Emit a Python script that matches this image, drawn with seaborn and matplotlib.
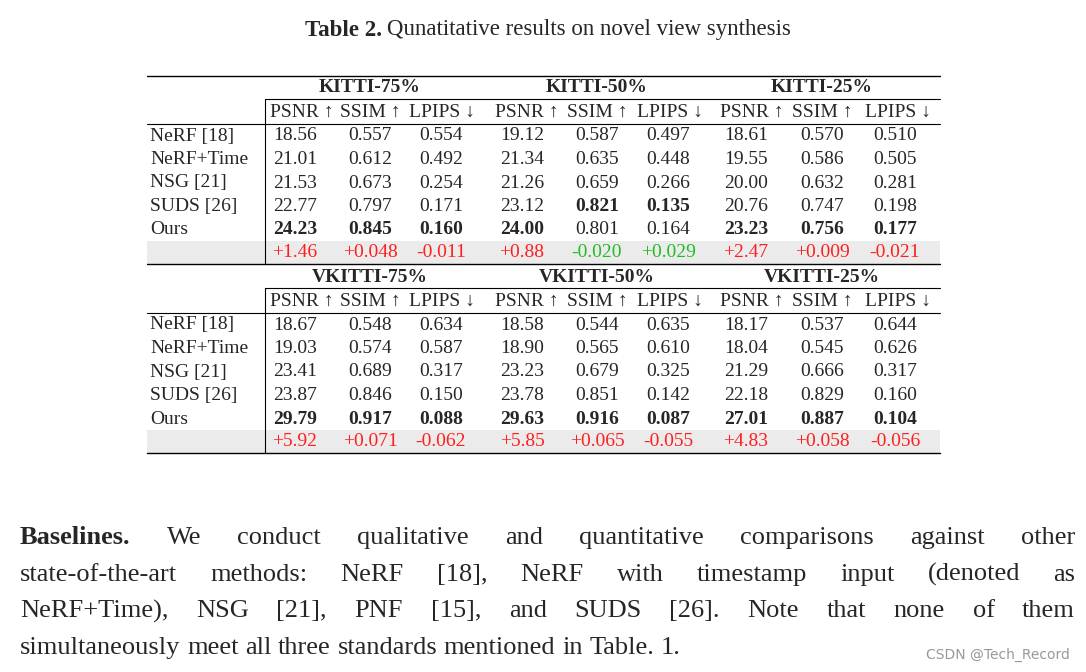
import matplotlib
matplotlib.use("Agg")
import matplotlib.pyplot as plt
import seaborn as sns

sns.set_theme(style="white")
plt.rcParams['font.family'] = ['Liberation Serif', 'DejaVu Serif']

title_bold = "Table 2."
title_rest = "Qunatitative results on novel view synthesis"
groups_top = ["KITTI-75%", "KITTI-50%", "KITTI-25%"]
groups_bot = ["VKITTI-75%", "VKITTI-50%", "VKITTI-25%"]
metrics = ["PSNR ↑", "SSIM ↑", "LPIPS ↓"]
methods = ["NeRF [18]", "NeRF+Time", "NSG [21]", "SUDS [26]", "Ours"]

kitti = [
    ["18.56", "0.557", "0.554", "19.12", "0.587", "0.497", "18.61", "0.570", "0.510"],
    ["21.01", "0.612", "0.492", "21.34", "0.635", "0.448", "19.55", "0.586", "0.505"],
    ["21.53", "0.673", "0.254", "21.26", "0.659", "0.266", "20.00", "0.632", "0.281"],
    ["22.77", "0.797", "0.171", "23.12", "0.821", "0.135", "20.76", "0.747", "0.198"],
    ["24.23", "0.845", "0.160", "24.00", "0.801", "0.164", "23.23", "0.756", "0.177"],
]
kitti_bold = [[0]*9, [0]*9, [0]*9,
              [0, 0, 0, 0, 1, 1, 0, 0, 0],
              [1, 1, 1, 1, 0, 0, 1, 1, 1]]
kitti_delta = ["+1.46", "+0.048", "-0.011", "+0.88", "-0.020", "+0.029", "+2.47", "+0.009", "-0.021"]
kitti_delta_good = [1, 1, 1, 1, 0, 0, 1, 1, 1]

vkitti = [
    ["18.67", "0.548", "0.634", "18.58", "0.544", "0.635", "18.17", "0.537", "0.644"],
    ["19.03", "0.574", "0.587", "18.90", "0.565", "0.610", "18.04", "0.545", "0.626"],
    ["23.41", "0.689", "0.317", "23.23", "0.679", "0.325", "21.29", "0.666", "0.317"],
    ["23.87", "0.846", "0.150", "23.78", "0.851", "0.142", "22.18", "0.829", "0.160"],
    ["29.79", "0.917", "0.088", "29.63", "0.916", "0.087", "27.01", "0.887", "0.104"],
]
vkitti_bold = [[0]*9, [0]*9, [0]*9, [0]*9, [1]*9]
vkitti_delta = ["+5.92", "+0.071", "-0.062", "+5.85", "+0.065", "-0.055", "+4.83", "+0.058", "-0.056"]
vkitti_delta_good = [1]*9

paragraph = [
    ("Baselines.", "We conduct qualitative and quantitative comparisons against other", True),
    ("", "state-of-the-art methods: NeRF [18], NeRF with timestamp input (denoted as", True),
    ("", "NeRF+Time), NSG [21], PNF [15], and SUDS [26]. Note that none of them", True),
    ("", "simultaneously meet all three standards mentioned in Table. 1.", False),
]
watermark = "CSDN @Tech_Record"

fig = plt.figure(figsize=(10.86, 6.72), dpi=100)
ax = fig.add_axes([0, 0, 1, 1])
ax.set_xlim(0, 1086)
ax.set_ylim(672, 0)
ax.axis("off")
fig.canvas.draw()
renderer = fig.canvas.get_renderer()

def width(s, **kw):
    t = ax.text(0, 0, s, **kw)
    w = t.get_window_extent(renderer).width
    t.remove()
    return w

FS = 14
col_x = [295, 370, 441, 522, 597, 668, 746, 822, 895]
hdr_x = [302, 370, 442, 527, 597, 670, 752, 822, 898]
grp_x = [370, 597, 822]
L, R, VX = 147, 940, 265
red, green = "#ff1f1f", "#22bb22"

TFS = 16.5
wb = width(title_bold, fontsize=TFS, fontweight="bold")
ws = width(" ", fontsize=TFS)
wr = width(title_rest, fontsize=TFS)
x0 = 548 - (wb + ws + wr) / 2
ax.text(x0, 30, title_bold, ha="left", va="center", fontsize=TFS, fontweight="bold")
ax.text(x0 + wb + ws, 30, title_rest, ha="left", va="center", fontsize=TFS)

def block(y0, groups, data, bold, delta, good, top_rule=True):
    if top_rule:
        ax.plot([L, R], [y0, y0], color="black", lw=1)
    for g, gx in zip(groups, grp_x):
        ax.text(gx, y0 + 12, g, ha="center", va="center", fontsize=FS, fontweight="bold")
    ax.plot([VX, R], [y0 + 23, y0 + 23], color="black", lw=0.8)
    for m_i in range(9):
        ax.text(hdr_x[m_i], y0 + 36, metrics[m_i % 3], ha="center", va="center", fontsize=FS)
    ax.plot([L, R], [y0 + 48, y0 + 48], color="black", lw=0.8)
    for r, meth in enumerate(methods):
        y = y0 + 60 + r * 23.5
        ax.text(L + 3, y, meth, ha="left", va="center", fontsize=FS)
        for c in range(9):
            ax.text(col_x[c], y, data[r][c], ha="center", va="center", fontsize=FS,
                    fontweight="bold" if bold[r][c] else "normal")
    yb = y0 + 165
    ax.fill_between([L, R], yb, yb + 23, color="#ebebeb", lw=0)
    for c in range(9):
        ax.text(col_x[c], yb + 11.5, delta[c], ha="center", va="center", fontsize=FS,
                color=red if good[c] else green)
    ax.plot([L, R], [yb + 23, yb + 23], color="black", lw=1)
    ax.plot([VX, VX], [y0 + 23, yb + 23], color="black", lw=0.8)

block(76, groups_top, kitti, kitti_bold, kitti_delta, kitti_delta_good)
block(265, groups_bot, vkitti, vkitti_bold, vkitti_delta, vkitti_delta_good, top_rule=False)

PFS = 19
PL, PR = 20, 1075
for i, (b, rest, justify) in enumerate(paragraph):
    y = 538 + i * 36.7
    words = ([(b, "bold")] if b else []) + [(w, "normal") for w in rest.split()]
    ws_ = [width(w, fontsize=PFS, fontweight=fw) for w, fw in words]
    natural = width(" ", fontsize=PFS)
    gap = (PR - PL - sum(ws_)) / (len(words) - 1) if justify else natural
    x = PL
    for (w, fw), wd in zip(words, ws_):
        ax.text(x, y, w, ha="left", va="center", fontsize=PFS, fontweight=fw)
        x += wd + gap

ax.text(1070, 655, watermark, ha="right", va="center", fontsize=10, color="#999999",
        family=["DejaVu Sans"])

fig.savefig("out.png", dpi=100, facecolor="white")
